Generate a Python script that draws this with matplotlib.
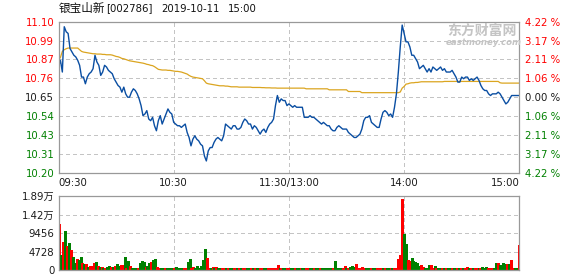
import numpy as np
import matplotlib
matplotlib.use("Agg")
import matplotlib.pyplot as plt

plt.rcParams['font.family'] = ['DejaVu Sans', 'Noto Sans CJK SC']

W, H = 578, 276

# ---- data ----
prev_close = 10.65
price_ticks = [10.20, 10.3125, 10.425, 10.5375, 10.65, 10.7625, 10.875, 10.9875, 11.10]
price_labels = ["10.20", "10.31", "10.43", "10.54", "10.65", "10.76", "10.87", "10.99", "11.10"]
pct_labels = ["4.22 %", "3.17 %", "2.11 %", "1.06 %", "0.00 %", "1.06 %", "2.11 %", "3.17 %", "4.22 %"]
time_ticks = [0, 60, 120, 180, 240]
time_labels = ["09:30", "10:30", "11:30/13:00", "14:00", "15:00"]
vol_ticks = [0, 4728, 9456, 14184, 18912]
vol_labels = ["0", "4728", "9456", "1.42万", "1.89万"]

price = [
    10.83, 10.87, 10.80, 11.07, 11.04, 11.03, 10.94, 10.92, 10.90, 10.89,
    10.87, 10.84, 10.77, 10.77, 10.73, 10.77, 10.79, 10.80, 10.82, 10.90,
    10.86, 10.84, 10.78, 10.80, 10.84, 10.83, 10.81, 10.80, 10.79, 10.76,
    10.74, 10.72, 10.71, 10.68, 10.71, 10.67, 10.65, 10.65, 10.68, 10.70,
    10.69, 10.67, 10.64, 10.60, 10.54, 10.55, 10.57, 10.52, 10.51, 10.53,
    10.48, 10.45, 10.51, 10.54, 10.49, 10.52, 10.55, 10.58, 10.56, 10.55,
    10.50,
    10.49, 10.48, 10.48, 10.47, 10.48, 10.49, 10.44, 10.41, 10.36, 10.40,
    10.42, 10.40, 10.39, 10.37, 10.36, 10.30, 10.27, 10.33, 10.35, 10.35,
    10.38, 10.40, 10.41, 10.40, 10.39, 10.42, 10.49, 10.48, 10.47, 10.46,
    10.48, 10.48, 10.46, 10.46, 10.47, 10.50, 10.52, 10.51, 10.49, 10.49,
    10.46, 10.48, 10.47, 10.45, 10.43, 10.45, 10.46, 10.44, 10.47, 10.49,
    10.50, 10.52, 10.60, 10.66, 10.62, 10.64, 10.63, 10.63, 10.60, 10.61,
    10.60, 10.59, 10.60, 10.59, 10.59, 10.59, 10.59, 10.53, 10.53, 10.53,
    10.54, 10.53, 10.53, 10.52, 10.51, 10.50, 10.49, 10.50, 10.49, 10.48,
    10.48, 10.46, 10.45, 10.45, 10.47, 10.48, 10.47, 10.46, 10.46, 10.46,
    10.44, 10.43, 10.42, 10.41, 10.41, 10.42, 10.43, 10.46, 10.51, 10.53,
    10.53, 10.54, 10.50, 10.49, 10.48, 10.47, 10.47, 10.52, 10.56, 10.57,
    10.56, 10.54, 10.55, 10.53, 10.59, 10.67, 10.80, 10.95, 11.08, 11.03,
    10.98, 10.98, 10.95, 10.90, 10.90, 10.88, 10.86, 10.82, 10.83, 10.84,
    10.82, 10.80, 10.82, 10.80, 10.83, 10.82, 10.81, 10.82, 10.83, 10.81,
    10.82, 10.80, 10.80, 10.80, 10.81, 10.79, 10.77, 10.74, 10.74, 10.77,
    10.76, 10.77, 10.77, 10.75, 10.76, 10.75, 10.76, 10.77, 10.75, 10.72,
    10.70, 10.69, 10.69, 10.67, 10.66, 10.67, 10.67, 10.67, 10.68, 10.67,
    10.65, 10.63, 10.61, 10.62, 10.64, 10.66, 10.66, 10.66, 10.66, 10.66,
]

avg_price = [
    10.873, 10.887, 10.923, 10.933, 10.939, 10.943, 10.943, 10.943, 10.943, 10.943,
    10.943, 10.933, 10.923, 10.919, 10.917, 10.915, 10.913, 10.911, 10.909, 10.909,
    10.907, 10.907, 10.907, 10.905, 10.905, 10.903, 10.903, 10.903, 10.901, 10.897,
    10.893, 10.891, 10.887, 10.881, 10.879, 10.875, 10.871, 10.867, 10.865, 10.863,
    10.861, 10.859, 10.857, 10.855, 10.853, 10.850, 10.846, 10.844, 10.840, 10.838,
    10.832, 10.824, 10.816, 10.814, 10.812, 10.812, 10.812, 10.810, 10.810, 10.808,
    10.806,
    10.804, 10.804, 10.802, 10.800, 10.796, 10.792, 10.788, 10.780, 10.774, 10.770,
    10.768, 10.766, 10.764, 10.762, 10.760, 10.748, 10.734, 10.730, 10.728, 10.726,
    10.724, 10.722, 10.720, 10.718, 10.718, 10.718, 10.716, 10.716, 10.714, 10.712,
    10.712, 10.712, 10.712, 10.710, 10.710, 10.710, 10.710, 10.710, 10.710, 10.710,
    10.708, 10.708, 10.708, 10.708, 10.708, 10.707, 10.707, 10.706, 10.706, 10.706,
    10.705, 10.705, 10.705, 10.704, 10.704, 10.704, 10.704, 10.704, 10.704, 10.704,
    10.704, 10.704, 10.704, 10.704, 10.704, 10.704, 10.704, 10.704, 10.700, 10.700,
    10.700, 10.700, 10.700, 10.700, 10.700, 10.700, 10.700, 10.700, 10.700, 10.700,
    10.694, 10.694, 10.694, 10.694, 10.694, 10.694, 10.694, 10.694, 10.694, 10.694,
    10.684, 10.684, 10.684, 10.684, 10.684, 10.684, 10.684, 10.677, 10.677, 10.677,
    10.677, 10.677, 10.677, 10.677, 10.677, 10.677, 10.677, 10.677, 10.677, 10.677,
    10.677, 10.677, 10.677, 10.677, 10.677, 10.677, 10.677, 10.681, 10.704, 10.714,
    10.728, 10.730, 10.734, 10.736, 10.736, 10.738, 10.738, 10.740, 10.742, 10.742,
    10.742, 10.742, 10.742, 10.742, 10.742, 10.742, 10.742, 10.742, 10.742, 10.742,
    10.744, 10.744, 10.744, 10.744, 10.744, 10.744, 10.744, 10.744, 10.744, 10.744,
    10.744, 10.744, 10.744, 10.744, 10.744, 10.744, 10.744, 10.744, 10.744, 10.744,
    10.744, 10.744, 10.744, 10.744, 10.744, 10.744, 10.744, 10.744, 10.744, 10.736,
    10.734, 10.734, 10.734, 10.734, 10.734, 10.734, 10.734, 10.734, 10.734, 10.734,
]

volume = [
    11560, 3500, 6830, 9720, 5780, 6570, 4820, 3150, 1580, 2630,
    2370, 3150, 1580, 1310, 1310, 530, 790, 790, 1580, 1840,
    790, 530, 530, 260, 350, 530, 790, 530, 530, 880,
    1310, 790, 1050, 1050, 3150, 260, 2100, 790, 260, 260,
    260, 260, 1580, 2100, 1840, 530, 790, 1580, 1840, 2370,
    2630, 530, 260, 260, 260, 260, 260, 260, 260, 260,
    260, 530, 260, 260, 260, 260, 260, 1840, 2630, 260,
    530, 260, 790, 260, 790, 2370, 5080, 2890, 260, 260,
    530, 260, 530, 260, 260, 180, 260, 260, 260, 260,
    260, 260, 180, 260, 260, 260, 260, 260, 260, 180,
    260, 260, 260, 260, 180, 260, 260, 260, 260, 260,
    260, 260, 260, 350, 1050, 260, 260, 260, 260, 260,
    260, 260, 260, 260, 260, 180, 260, 260, 260, 260,
    260, 260, 260, 260, 260, 260, 180, 260, 260, 260,
    260, 260, 260, 260, 2100, 260, 260, 260, 260, 790,
    260, 260, 530, 790, 530, 1310, 260, 260, 530, 260,
    260, 260, 260, 260, 180, 260, 260, 260, 260, 260,
    260, 260, 260, 260, 260, 260, 260, 2630, 3680, 17870,
    8935, 6310, 2370, 2100, 2890, 2100, 1750, 1580, 790, 1050,
    530, 260, 260, 1050, 1050, 260, 790, 260, 260, 260,
    260, 260, 260, 260, 260, 260, 260, 260, 260, 260,
    260, 260, 260, 530, 260, 260, 260, 260, 260, 260,
    260, 530, 260, 530, 260, 260, 260, 260, 1580, 1580,
    1050, 790, 1580, 1310, 1310, 1310, 2370, 260, 260, 180,
    6040,
]

# r = up minute, g = down minute
vol_dir = (
    "rgrgrgrggr" "ggrgrgrrrg" "rgrgrggrgr" "ggrrgrgrgg" "grgggrggrg"
    "grrggrgggg" "rggggrrggr" "rggggggrrg" "rgrggrrgrg" "grrgrgrrgg"
    "rgrggrrggr" "rrrrrgrggr" "rggrggrggr" "rggrggrggg" "gggrggggrr"
    "grgggrrrrr" "gggrggrrrg" "rggrgrrrrr" "ggrrgggggr" "rgggrrgrgg"
    "rgrggrggrg" "rgrrgrgrrg" "rgggrrrggr" "ggggrgrrgg" "r"
)

RED = "#ff0000"
GREEN = "#008000"
DARK = "#1a1a1a"
FRAME = "#999999"
GRID = "#c4c4c4"
DASH = (0, (4, 3))

fig = plt.figure(figsize=(W / 100, H / 100), dpi=100)
fig.patch.set_facecolor("white")


def fx(px):
    return px / W


def fy(py):
    return 1 - py / H


left, right = 58.5, 519.3
ax = fig.add_axes([fx(left), fy(172.7), fx(right - left), fy(21.7) - fy(172.7)])
axv = fig.add_axes([fx(left), fy(270.0), fx(right - left), fy(196.0) - fy(270.0)])

x = np.arange(len(price))
ax.plot(x, avg_price, color="#dba520", lw=0.9, zorder=4)
ax.plot(x, price, color="#0a4ea2", lw=1.0, zorder=5)

ax.set_xlim(0, 240)
ax.set_ylim(prev_close * (1 - 0.0422), prev_close * (1 + 0.0422))
axv.set_xlim(-0.5, 240.3)
axv.set_ylim(0, vol_ticks[-1])


def dashed_grid(a, xs, ys):
    x0, x1 = a.get_xlim()
    y0, y1 = a.get_ylim()
    a.hlines(ys, x0, x1, colors=GRID, linewidth=0.72, linestyles=DASH,
             antialiased=False, zorder=2)
    a.vlines(xs, y0, y1, colors=GRID, linewidth=0.72, linestyles=DASH,
             antialiased=False, zorder=2)


for a in (ax, axv):
    for s in a.spines.values():
        s.set_color(FRAME)
        s.set_linewidth(0.9)
        s.set_zorder(6)
    a.set_xticks([])
    a.tick_params(length=0, pad=3)

dashed_grid(ax, time_ticks[1:-1], price_ticks[1:-1])
dashed_grid(axv, time_ticks[1:-1], vol_ticks[1:-1])

ax.set_yticks(price_ticks)
ax.set_yticklabels(price_labels, fontsize=7.3)
for i, lab in enumerate(ax.get_yticklabels()):
    lab.set_color(GREEN if i < 4 else (DARK if i == 4 else RED))

ax2 = ax.twinx()
ax2.patch.set_visible(False)
ax2.set_ylim(ax.get_ylim())
ax2.set_yticks(price_ticks)
ax2.set_yticklabels(pct_labels[::-1], fontsize=7.3)
ax2.tick_params(length=0, pad=4)
for s in ax2.spines.values():
    s.set_visible(False)
for i, lab in enumerate(ax2.get_yticklabels()):
    lab.set_color(GREEN if i < 4 else (DARK if i == 4 else RED))

xt = ax.get_xaxis_transform()
for t, lab in zip(time_ticks, time_labels):
    ha = "left" if t == 0 else ("right" if t == 240 else "center")
    ax.text(t, -0.068, lab, transform=xt, ha=ha, va="center", fontsize=7.3, color=DARK)

# volume bars, one pixel wide
cols = [RED if c == "r" else GREEN for c in vol_dir]
bars = axv.vlines(np.arange(len(volume)), 0, volume, colors=cols, linewidth=0.75,
                  antialiased=False, zorder=3)
bars.set_capstyle("projecting")
axv.set_yticks(vol_ticks)
axv.set_yticklabels(vol_labels, fontsize=7.3, color=DARK)

# title
fig.text(fx(59), fy(8.5), "银宝山新", fontsize=8.4, family="Noto Sans CJK SC", va="center", color="#111111")
fig.text(fx(106), fy(8.5), "[002786]", fontsize=7.3, va="center", color="#111111")
fig.text(fx(161), fy(8.5), "2019-10-11", fontsize=7.3, va="center", color="#111111")
fig.text(fx(228), fy(8.5), "15:00", fontsize=7.3, va="center", color="#111111")

# watermark
fig.text(fx(447), fy(31), "东方财富网", fontsize=10, family="Noto Sans CJK SC", weight="bold",
         color="#c4c4c4", va="center", ha="left")
fig.text(fx(446), fy(42.5), "eastmoney.com", fontsize=6.2, weight="bold", style="italic",
         color="#c4c4c4", va="center", ha="left")

fig.savefig("out.png", dpi=100, facecolor="white")
